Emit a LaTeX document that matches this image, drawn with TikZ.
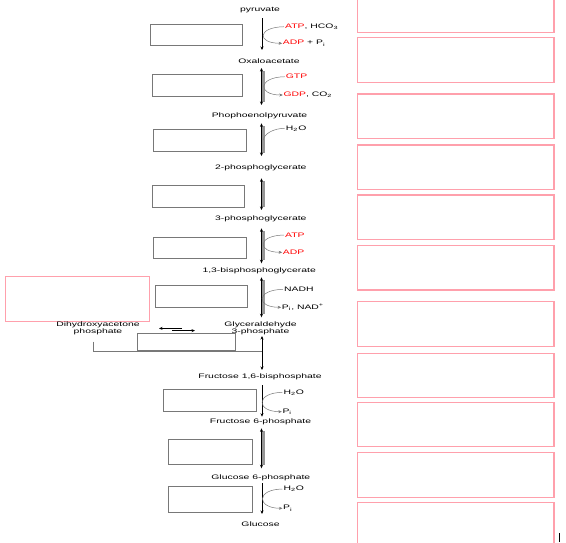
\documentclass[tikz,border=0pt]{standalone}
\usepackage{fontspec}
\setmainfont{Liberation Sans}
\usepackage{graphicx}
\usetikzlibrary{arrows.meta}
\newcommand{\st}[1]{\scalebox{1.6}[1]{#1}}
\definecolor{pinkline}{RGB}{255,160,172}
\definecolor{boxgray}{RGB}{120,120,120}
\definecolor{bargray}{RGB}{150,150,150}
\begin{document}
\begin{tikzpicture}[x=1pt,y=-1pt,
  lbl/.style={inner sep=0pt, font=\fontsize{6.5}{6.8}\selectfont, align=center},
  rlbl/.style={lbl, anchor=west},
  pbox/.style={draw=pinkline, line width=1.3pt, inner sep=0pt, anchor=north west},
  gbox/.style={draw=boxgray, line width=0.7pt, inner sep=0pt, anchor=north west},
  tip/.style={-{Stealth[length=3.5pt,width=3pt]}},
  dtip/.style={{Stealth[length=3.5pt,width=3pt]}-{Stealth[length=3.5pt,width=3pt]}},
  curve/.style={draw=boxgray, line width=0.5pt},
  thin/.style={line width=0.6pt},
]
\useasboundingbox (0,0) rectangle (566,542);
% right-hand pink answer boxes
\foreach \a/\b [count=\i] in {-2/31.7, 37/81.7, 93.3/138, 144.3/189, 194.3/239, 245/289.3, 301/345.7, 352.7/396.7, 401.7/446, 451.7/496.7, 501.7/546}
  \node[pbox, minimum width=196.6pt, minimum height={(\b-\a)*1pt}] (r\i) at (356.7,\a) {};
% left pink box
\node[pbox, minimum width=144pt, minimum height=45pt] (lp) at (5,276) {};
% gray enzyme boxes
\node[gbox, minimum width=91.7pt, minimum height=21.5pt] (g1) at (150,23.5) {};
\node[gbox, minimum width=90pt, minimum height=22pt] (g2) at (151.7,74.3) {};
\node[gbox, minimum width=93.3pt, minimum height=21.7pt] (g3) at (152.7,129) {};
\node[gbox, minimum width=92.3pt, minimum height=21.7pt] (g4) at (151.7,185) {};
\node[gbox, minimum width=92.7pt, minimum height=21.6pt] (g5) at (153.3,236.7) {};
\node[gbox, minimum width=92.3pt, minimum height=22.3pt] (g6) at (155,285) {};
\node[gbox, minimum width=98.6pt, minimum height=16.7pt] (g7) at (136.7,333.3) {};
\node[gbox, minimum width=92.4pt, minimum height=21.7pt] (g8) at (163.3,389.3) {};
\node[gbox, minimum width=83.4pt, minimum height=25pt] (g9) at (168.3,439) {};
\node[gbox, minimum width=83.4pt, minimum height=25.7pt] (g10) at (168.3,486) {};
% metabolites
\node[lbl] (pyr) at (260,10) {\st{pyruvate}};
\node[lbl] (oxa) at (269,61) {\st{Oxaloacetate}};
\node[lbl] (pep) at (259.5,116) {\st{Phophoenolpyruvate}};
\node[lbl] (pg2) at (260.8,167.7) {\st{2-phosphoglycerate}};
\node[lbl] (pg3) at (260.8,219.3) {\st{3-phosphoglycerate}};
\node[lbl] (bpg) at (259.2,270.7) {\st{1,3-bisphosphoglycerate}};
\node[lbl] (g3p) at (260.5,328) {\st{Glyceraldehyde}\\\st{3-phosphate}};
\node[lbl] (dhap) at (98,328) {\st{Dihydroxyacetone}\\\st{phosphate}};
\node[lbl] (fbp) at (260,377.3) {\st{Fructose 1,6-bisphosphate}};
\node[lbl] (f6p) at (260.5,421.7) {\st{Fructose 6-phosphate}};
\node[lbl] (g6p) at (260.8,478.3) {\st{Glucose 6-phosphate}};
\node[lbl] (glc) at (260.5,524) {\st{Glucose}};
% cofactors
\node[rlbl] (c1a) at (285,26.7) {\st{\textcolor{red}{ATP}, HCO\textsubscript{3}}};
\node[rlbl] (c1b) at (282.7,43.3) {\st{\textcolor{red}{ADP} + P\textsubscript{i}}};
\node[rlbl] (c2a) at (285.7,76.7) {\st{\textcolor{red}{GTP}}};
\node[rlbl] (c2b) at (283.3,95) {\st{\textcolor{red}{GDP}, CO\textsubscript{2}}};
\node[rlbl] (c3a) at (285.7,128.3) {\st{H\textsubscript{2}O}};
\node[rlbl] (c4a) at (285,235) {\st{\textcolor{red}{ATP}}};
\node[rlbl] (c4b) at (282.7,252.3) {\st{\textcolor{red}{ADP}}};
\node[rlbl] (c5a) at (284,289.3) {\st{NADH}};
\node[rlbl] (c5b) at (281.7,307.3) {\st{P\textsubscript{i}, NAD\textsuperscript{+}}};
\node[rlbl] (c6a) at (283.3,392.3) {\st{H\textsubscript{2}O}};
\node[rlbl] (c6b) at (282.3,411.7) {\st{P\textsubscript{i}}};
\node[rlbl] (c7a) at (283.3,489) {\st{H\textsubscript{2}O}};
\node[rlbl] (c7b) at (283,508.3) {\st{P\textsubscript{i}}};
% single irreversible arrows
\draw[thin, tip] (262,18) -- (262,50);
\draw[thin, tip] (262,385) -- (262,416.7);
\draw[thin, tip] (262,483) -- (262,514);
\draw[thin, dtip] (262,336) -- (262,370);
% reversible bars
\foreach \a/\b in {68/105, 123.3/156, 178.3/210, 228.3/263.3, 277.3/317.3, 428.3/468.3} {
  \fill[bargray] (261.8,\a+3) rectangle (264.8,\b-3);
  \draw[thin, dtip] (261.5,\a) -- (261.5,\b);
}
% side curves
\foreach \u/\v in {c1a/c1b, c2a/c2b, c4a/c4b, c5a/c5b, c6a/c6b, c7a/c7b}
  \draw[curve, tip, shorten <=1pt, shorten >=0.5pt] (\u.west) .. controls +(-28,0.5) and +(-26,0) .. (\v.west);
\coordinate (h2oend) at (263.5,140);
\draw[curve, shorten <=1pt] (c3a.west) .. controls +(-12,0) and +(0,-6) .. (h2oend);
% DHAP <-> G3P
\draw[thin, tip] (182,328.4) -- (159,328.4);
\draw[thin, tip] (172,330.6) -- (195,330.6);
\coordinate (dj) at (262,351.7);
\draw[curve] (93.3,341.7) |- (dj);
% small mark
\draw[line width=0.8pt] (559,533) -- (559,542);
\end{tikzpicture}
\end{document}
